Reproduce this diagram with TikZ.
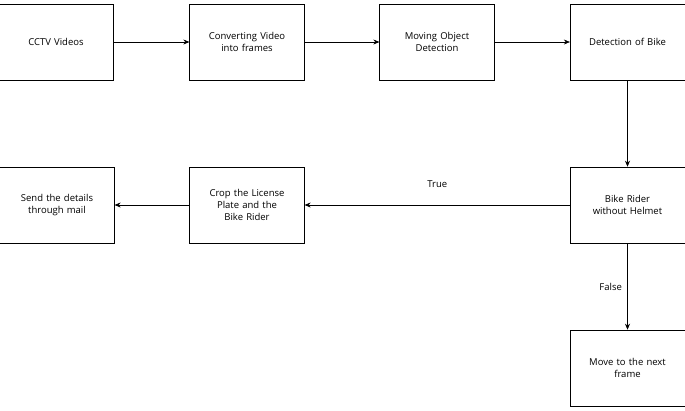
\documentclass[tikz,border=0pt]{standalone}
\usepackage{fontspec}
\setmainfont{Open Sans}
\usetikzlibrary{arrows.meta}
\begin{document}
\begin{tikzpicture}[x=1pt,y=-1pt,
  box/.style={draw,line width=0.6pt,minimum width=112pt,minimum height=76pt,align=center,font=\fontsize{9.5}{12}\selectfont,text width=108pt},
  arr/.style={-{Stealth[length=6pt,width=5pt]},line width=0.6pt},
  lbl/.style={font=\fontsize{9.5}{12}\selectfont}]
\useasboundingbox (0,0) rectangle (685,410);
\node[box] (a) at (56,42) {CCTV Videos};
\node[box] (b) at (247,42) {Converting Video\\into frames};
\node[box] (c) at (437,42) {Moving Object\\Detection};
\node[box] (d) at (627.5,42) {Detection of Bike};
\node[box] (e) at (627.5,205) {Bike Rider\\without Helmet};
\node[box] (f) at (247,205) {Crop the License\\Plate and the\\Bike Rider};
\node[box] (g) at (57,205) {Send the details\\through mail};
\node[box] (h) at (627.5,368) {Move to the next\\frame};
\draw[arr] (a) -- (b);
\draw[arr] (b) -- (c);
\draw[arr] (c) -- (d);
\draw[arr] (d) -- (e);
\draw[arr] (e) -- node[lbl,above=14pt,pos=0.5]{True} (f);
\draw[arr] (f) -- (g);
\draw[arr] (e) -- node[lbl,left=2pt,pos=0.5]{False} (h);
\end{tikzpicture}
\end{document}
